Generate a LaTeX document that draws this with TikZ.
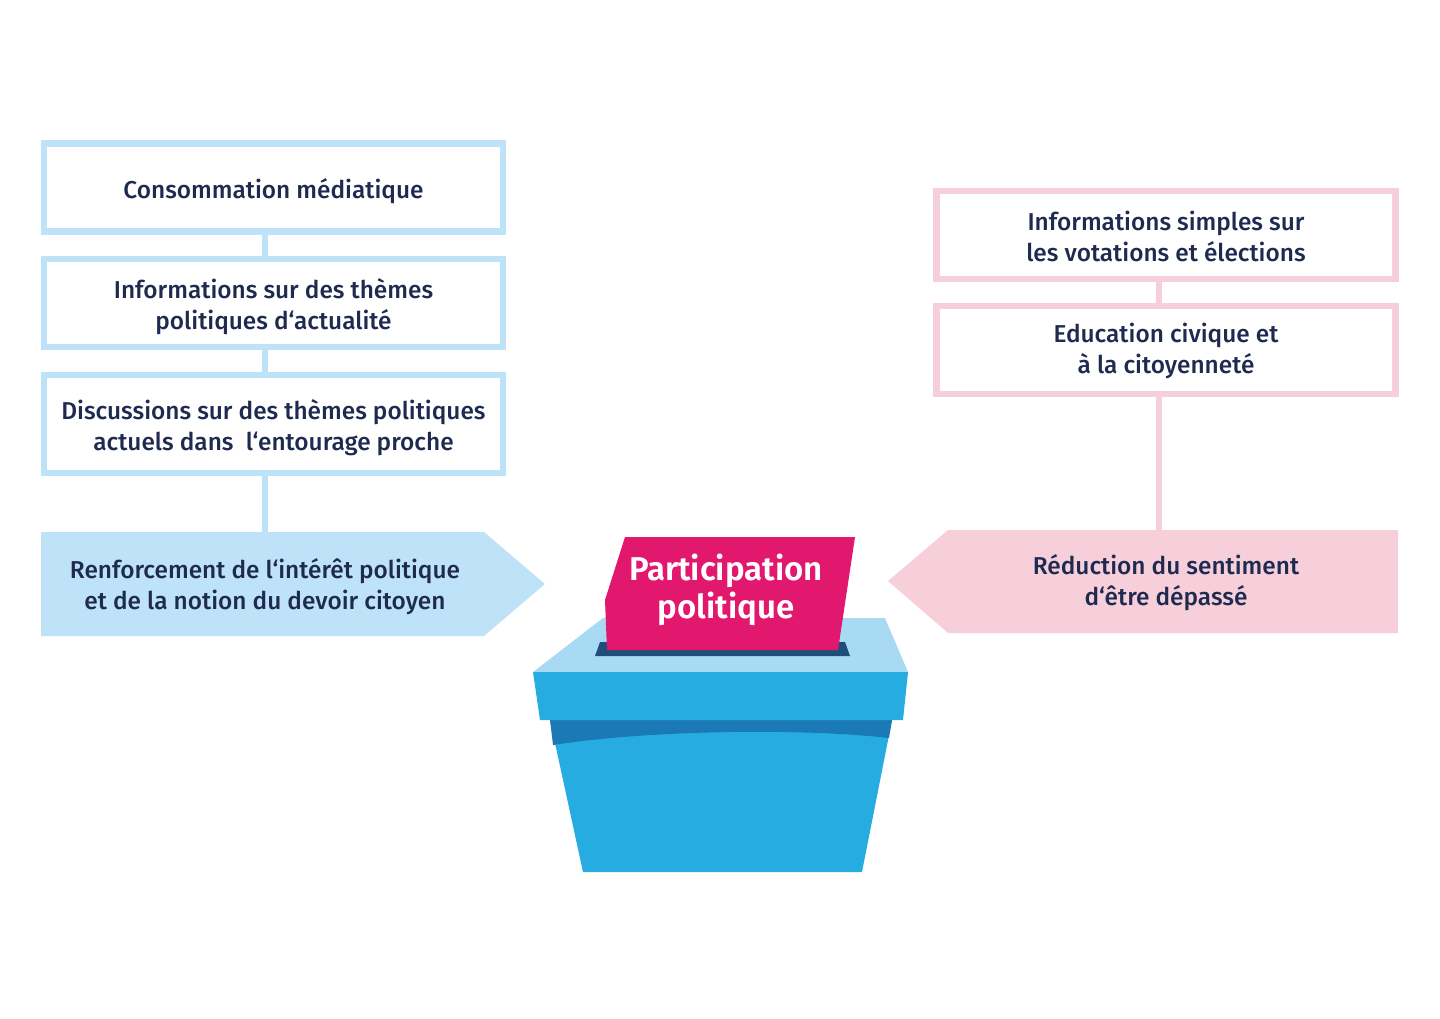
\documentclass[tikz,border=0pt]{standalone}
\usepackage{fontspec}
\setmainfont{Fira Sans}[UprightFont=* Medium,BoldFont=* SemiBold]
\begin{document}
\definecolor{lb}{HTML}{BEE3F8}
\definecolor{pk}{HTML}{F7CFDA}
\definecolor{tx}{HTML}{1E2A4F}
\definecolor{mag}{HTML}{E2176E}
\definecolor{bb}{HTML}{27ACE2}
\definecolor{bl}{HTML}{A8DBF3}
\definecolor{bd}{HTML}{1B7AB5}
\definecolor{sl}{HTML}{1F4E7A}
\begin{tikzpicture}[x=0.5pt,y=-0.5pt,
 box/.style={draw=#1,line width=3.2pt,fill=white,minimum width=229.5pt,minimum height=44pt},
 lbl/.style={align=center,font=\fontsize{12.2}{15.5}\selectfont,text=tx}]
\useasboundingbox (0,0) rectangle (1440,1018);
% left
\draw[lb,line width=3pt] (265,234)--(265,540);
\node[box=lb] (a) at (273.5,187.5) {};
\node[box=lb] (b) at (273.5,303) {};
\node[box=lb,minimum height=49pt] (c) at (273.5,424) {};
\node[lbl] (at) at ([yshift=-2pt]a.center) {Consommation médiatique};
\node[lbl] (bt) at ([yshift=-2pt]b.center) {Informations sur des thèmes\\politiques d‘actualité};
\node[lbl] (ct) at ([yshift=-2pt]c.center) {Discussions sur des thèmes politiques\\actuels dans\ \ l‘entourage proche};
\fill[lb] (41,532)--(484,532)--(545,584)--(484,636)--(41,636)--cycle;
\node[lbl] (d) at (265,587) {Renforcement de l‘intérêt politique\\et de la notion du devoir citoyen};
% right
\draw[pk,line width=3pt] (1159,281)--(1159,535);
\node[box=pk] (e) at (1166,235) {};
\node[box=pk] (f) at (1166,350) {};
\node[lbl] (et) at ([yshift=-0.5pt]e.center) {Informations simples sur\\les votations et élections};
\node[lbl] (ft) at ([yshift=-0.5pt]f.center) {Education civique et\\à la citoyenneté};
\fill[pk] (888,581)--(948,530)--(1398,530)--(1398,633)--(948,633)--cycle;
\node[lbl] (g) at (1166,583) {Réduction du sentiment\\d‘être dépassé};
% ballot box
\fill[bl] (603,618)--(885,618)--(908,672)--(533,672)--cycle;
\fill[sl] (600,642)--(845,642)--(850,656)--(595,656)--cycle;
\fill[mag] (625,537)--(855,537)--(838,650)--(607,650)--(605,600)--cycle;
\node[font=\fontsize{16.5}{19}\selectfont\bfseries,text=white,align=center] (p) at (726,590) {Participation\\politique};
\fill[bb] (550,720)--(892,720)--(862,872)--(583,872)--cycle;
\fill[bd] (550,720)--(892,720)--(889,738) .. controls (800,728) and (650,730) .. (553,745)--cycle;
\fill[bb] (533,672)--(908,672)--(903,720)--(540,720)--cycle;
\end{tikzpicture}
\end{document}
